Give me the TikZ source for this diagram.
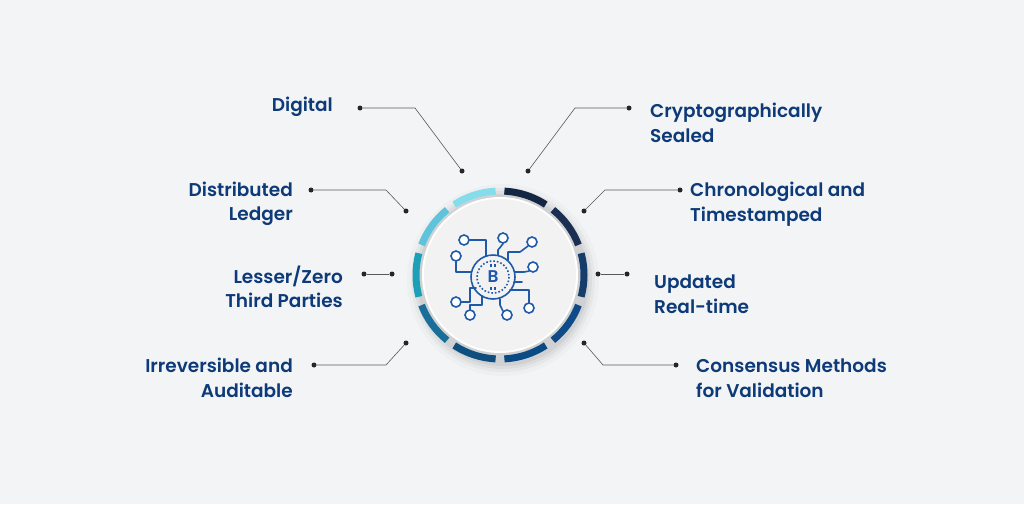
\documentclass[tikz,border=0pt]{standalone}
\usepackage{fontspec}
\setmainfont{Poppins}[BoldFont={Poppins SemiBold}]
\begin{document}
\begin{tikzpicture}[x=1pt,y=-1pt,
  lbl/.style={font=\bfseries\fontsize{18.5}{24.5}\selectfont,text=txt,inner sep=0pt},
  con/.style={draw=gray!70!black,line width=0.6pt},
  dot/.style={circle,fill=black!85,inner sep=0pt,minimum size=5pt},
  ic/.style={draw=icon,line width=1.6pt,line cap=round,line join=round},
  sc/.style={circle,draw=icon,line width=1.6pt,fill=white,inner sep=0pt,minimum size=10pt}]
\definecolor{txt}{HTML}{0D3A78}
\definecolor{icon}{HTML}{1E5AA8}
\definecolor{bg}{HTML}{F3F4F5}
\fill[bg] (0,0) rectangle (1024,504);
\useasboundingbox (0,0) rectangle (1024,504);
% shadow
\foreach \r/\o in {96/0.02,92/0.03,89/0.04,86/0.05}
  \fill[black,opacity=\o] (503,280) circle (\r);
\coordinate (c) at (500,275);
% ring segments
\foreach \a/\col in {90/132642,54/1A2F52,18/153D6B,-18/0F4B86,-54/0A4A85,
  126/85DCEB,162/5EC4DC,198/1BA0B8,234/1A6F9A,270/0F4F80}{
  \definecolor{segc}{HTML}{\col}
  \draw[segc,line width=7pt] (c) ++(3-\a:84) arc[start angle=3-\a,end angle=33-\a,radius=84];
}
\fill[white] (c) circle (78);
\fill[black!5] (c) circle (76);
% icon
\node[circle,draw=icon,line width=1.6pt,minimum size=44pt,inner sep=0pt] (bc) at (493,277) {};
\draw[icon,line width=1.6pt,dotted] (bc) circle (16);
\node[text=icon,font=\bfseries\fontsize{17}{17}\selectfont,inner sep=0pt] (bb) at (493,277) {B};
\draw[icon,line width=1.3pt] (491,267)--(491,264) (495,267)--(495,264) (491,287)--(491,290) (495,287)--(495,290);
\node[sc] (s1) at (464,240) {};
\node[sc] (s2) at (503,238) {};
\node[sc] (s3) at (532,242) {};
\node[sc] (s4) at (456,256) {};
\node[sc] (s5) at (533,267) {};
\node[sc] (s6) at (456,302) {};
\node[sc] (s7) at (470,315) {};
\node[sc] (s8) at (507,315) {};
\node[sc] (s9) at (529,308) {};
\draw[ic] (s1.east)--(486,240)--(486,256);
\draw[ic] (s2.south)--(498,250)--(498,255);
\draw[ic] (s3.south west)--(520,252)--(508,252)--(508,260);
\draw[ic] (s4.south)--(456,272)--(471,272);
\draw[ic] (515,272)--(524,272)--(s5.south west);
\draw[ic] (s6.east)--(470,302)--(470,288)--(476,288);
\draw[ic] (s7.north)--(470,305)--(482,305)--(482,296);
\draw[ic] (s8.north west)--(500,305)--(500,299);
\draw[ic] (s9.north)--(529,290)--(510,290);
\draw[ic] (514,282)--(522,282);
% labels
\node[lbl,anchor=east] (digital) at (333,107) {Digital};
\node[lbl,anchor=east,align=right] (dist) at (293,204) {Distributed\\Ledger};
\node[lbl,anchor=east,align=right] (less) at (343,287) {Lesser/Zero\\Third Parties};
\node[lbl,anchor=east,align=right] (irr) at (293,378) {Irreversible and\\Auditable};
\node[lbl,anchor=west,align=left] (cry) at (650,123) {Cryptographically\\Sealed};
\node[lbl,anchor=west,align=left] (chr) at (690,204) {Chronological and\\Timestamped};
\node[lbl,anchor=west,align=left] (upd) at (654,294) {Updated\\Real-time};
\node[lbl,anchor=west,align=left] (con) at (696,378) {Consensus Methods\\for Validation};
% connectors
\node[dot] (d1a) at (360,108) {}; \node[dot] (d1b) at (462,171) {};
\draw[con] (d1a)--(415,108)--(d1b);
\node[dot] (d2a) at (629,108) {}; \node[dot] (d2b) at (528,171) {};
\draw[con] (d2a)--(575,108)--(d2b);
\node[dot] (d3a) at (311,190) {}; \node[dot] (d3b) at (406,211) {};
\draw[con] (d3a)--(386,190)--(d3b);
\node[dot] (d4a) at (680,190) {}; \node[dot] (d4b) at (584,211) {};
\draw[con] (d4a)--(605,190)--(d4b);
\node[dot] (d5a) at (364,274) {}; \node[dot] (d5b) at (392,274) {};
\draw[con] (d5a)--(d5b);
\node[dot] (d6a) at (598,274) {}; \node[dot] (d6b) at (627,274) {};
\draw[con] (d6a)--(d6b);
\node[dot] (d7a) at (314,365) {}; \node[dot] (d7b) at (406,343) {};
\draw[con] (d7a)--(386,365)--(d7b);
\node[dot] (d8a) at (676,365) {}; \node[dot] (d8b) at (584,343) {};
\draw[con] (d8a)--(603,365)--(d8b);
\end{tikzpicture}
\end{document}
